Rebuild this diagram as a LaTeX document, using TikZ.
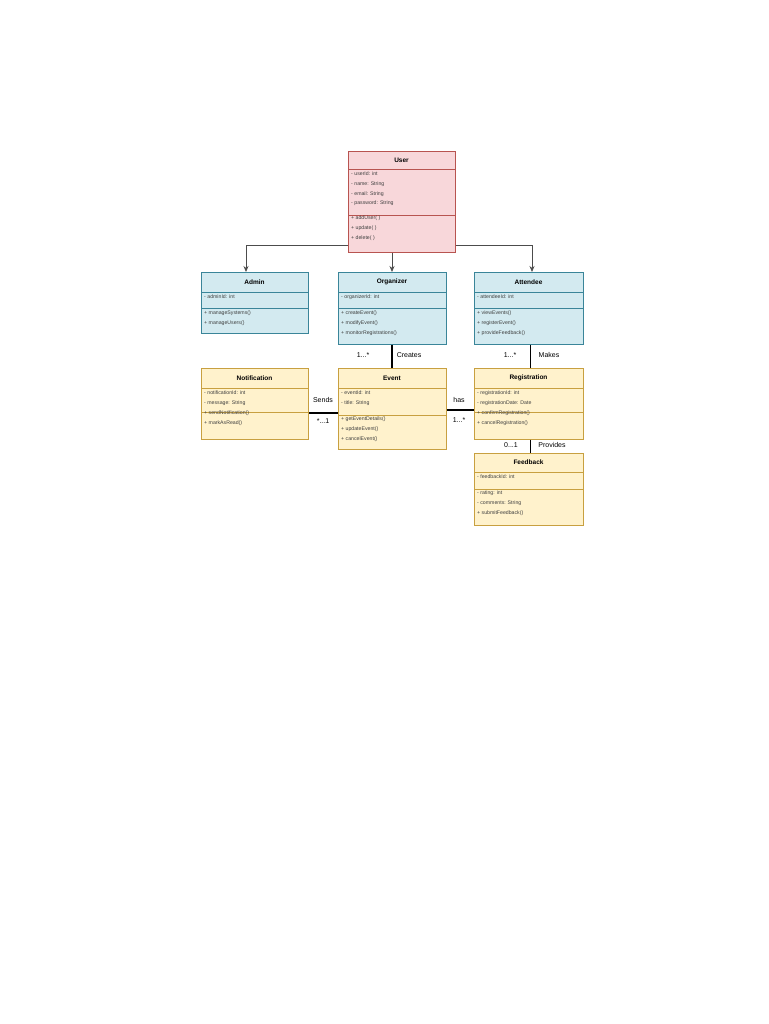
\documentclass[tikz,border=0pt]{standalone}
\usepackage{fontspec}
\setmainfont{Liberation Sans}
\usetikzlibrary{arrows.meta}
\definecolor{pinkf}{HTML}{F8D7DA}\definecolor{pinkd}{HTML}{B85450}
\definecolor{bluef}{HTML}{D3EAF0}\definecolor{blued}{HTML}{3A8599}
\definecolor{yelf}{HTML}{FFF2CC}\definecolor{yeld}{HTML}{C8A040}
\tikzset{
  hdr/.style={font=\fontsize{6.5}{7}\selectfont\bfseries, anchor=center},
  mem/.style={font=\fontsize{5.2}{9.6}\selectfont, anchor=north west, align=left, inner sep=0pt, text=black!75},
  lbl/.style={font=\fontsize{7}{8}\selectfont, anchor=center},
  conn/.style={draw=black, line width=1.4pt},
  thin/.style={draw=black, line width=0.8pt},
  gen/.style={draw=black!70, line width=0.8pt, -{Stealth[length=6pt,width=5pt]}}
}
% #1 name #2 x1 #3 y1 #4 x2 #5 y2 #6 header bottom #7 sep #8 title #9 style
\newcommand{\umlbox}[9]{%
  \node[draw=#9d, fill=#9f, line width=0.7pt, anchor=north west, minimum width=#4pt-#2pt, minimum height=#5pt-#3pt, inner sep=0pt] (#1) at (#2,#3) {};
  \draw[#9d, line width=0.6pt] (#2,#6) -- (#4,#6);
  \draw[#9d, line width=0.6pt] (#2,#7) -- (#4,#7);
  \node[hdr] (#1-t) at ({(#2+#4)/2},{(#3+#6)/2}) {#8};
}
\begin{document}
\begin{tikzpicture}[x=1pt,y=-1pt]
\useasboundingbox (0,0) rectangle (768,1024);
\fill[white] (0,0) rectangle (768,1024);
% classes
\umlbox{user}{348}{151}{455}{252}{169}{215}{User}{pink}
\node[mem] (user-a) at (351,172) {- userId: int\\- name: String\\- email: String\\- password: String};
\node[mem] (user-m) at (351,216) {+ addUser( )\\+ update( )\\+ delete( )};

\umlbox{admin}{201}{272}{308}{333}{292}{308}{Admin}{blue}
\node[mem] (admin-a) at (204,295) {- adminId: int};
\node[mem] (admin-m) at (204,311) {+ manageSystems()\\+ manageUsers()};

\umlbox{org}{338}{272}{446}{344}{292}{308}{Organizer}{blue}
\node[mem] (org-a) at (341,295) {- organizerId: int};
\node[mem] (org-m) at (341,311) {+ createEvent()\\+ modifyEvent()\\+ monitorRegistrations()};

\umlbox{att}{474}{272}{583}{344}{292}{308}{Attendee}{blue}
\node[mem] (att-a) at (477,295) {- attendeeId: int};
\node[mem] (att-m) at (477,311) {+ viewEvents()\\+ registerEvent()\\+ provideFeedback()};

\umlbox{notif}{201}{368}{308}{439}{388}{412}{Notification}{yel}
\node[mem] (notif-a) at (204,391) {- notificationId: int\\- message: String};
\node[mem] (notif-m) at (204,411) {+ sendNotification()\\+ markAsRead()};

\umlbox{event}{338}{368}{446}{449}{388}{415}{Event}{yel}
\node[mem] (event-a) at (341,391) {- eventId: int\\- title: String};
\node[mem] (event-m) at (341,417) {+ getEventDetails()\\+ updateEvent()\\+ cancelEvent()};

\umlbox{reg}{474}{368}{583}{439}{388}{412}{Registration}{yel}
\node[mem] (reg-a) at (477,391) {- registrationId: int\\- registrationDate: Date};
\node[mem] (reg-m) at (477,411) {+ confirmRegistration()\\+ cancelRegistration()};

\umlbox{fb}{474}{453}{583}{525}{472}{489}{Feedback}{yel}
\node[mem] (fb-a) at (477,475) {- feedbackId: int};
\node[mem] (fb-m) at (477,491) {- rating: int\\- comments: String\\+ submitFeedback()};

% generalization
\draw[gen] (user.west |- 0,245) -| (admin.north -| 246,0);
\draw[gen] (user.south -| 392,0) -- (org.north -| 392,0);
\draw[gen] (user.east |- 0,245) -| (att.north -| 532,0);
% associations
\draw[conn] (org.south -| 392,0) -- (event.north -| 392,0);
\draw[thin] (att.south -| 530,0) -- (reg.north -| 530,0);
\draw[conn] (notif.east |- 0,413) -- (event.west |- 0,413);
\draw[conn] (event.east |- 0,410) -- (reg.west |- 0,410);
\draw[thin] (reg.south -| 530,0) -- (fb.north -| 530,0);
% labels
\node[lbl] (l1) at (363,355) {1...*};
\node[lbl] (l2) at (409,355) {Creates};
\node[lbl] (l3) at (510,355) {1...*};
\node[lbl] (l4) at (549,355) {Makes};
\node[lbl] (l5) at (323,400) {Sends};
\node[lbl] (l6) at (323,421) {*...1};
\node[lbl] (l7) at (459,400) {has};
\node[lbl] (l8) at (459,420) {1...*};
\node[lbl] (l9) at (511,445) {0...1};
\node[lbl] (l10) at (552,445) {Provides};
\end{tikzpicture}
\end{document}
